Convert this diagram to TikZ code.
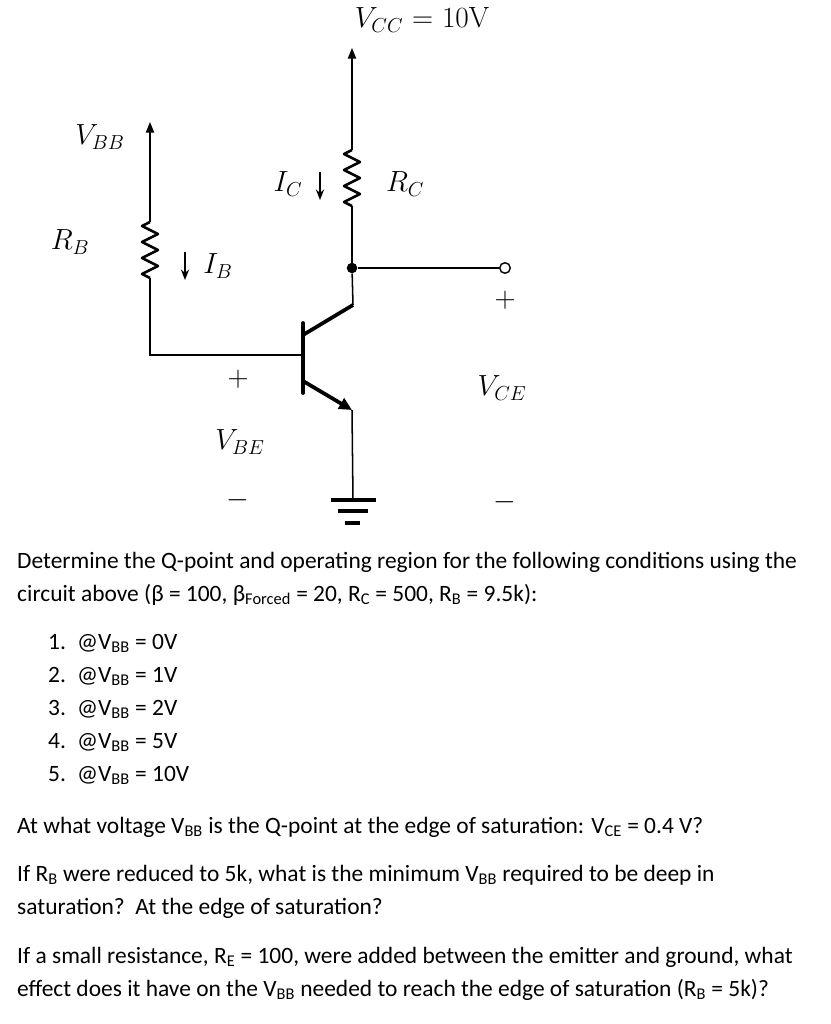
\documentclass[tikz,border=0pt]{standalone}
\usepackage{fontspec}
\setmainfont{Carlito}
\newfontfamily\lmr{Latin Modern Roman}
\usetikzlibrary{arrows.meta}
\tikzset{
  wire/.style={line width=1.3pt},
  thickw/.style={line width=3.2pt},
  lbl/.style={font=\lmr\fontsize{25}{28}\selectfont},
  txt/.style={anchor=base west, inner sep=0pt, font=\fontsize{20}{24}\selectfont},
  supply/.style={wire,-{Triangle[length=9pt,width=7pt]}},
  res/.style={line width=2.2pt,line join=round},
  cur/.style={line width=1.1pt,-{Stealth[length=9pt,width=7pt]}}
}
\newcommand{\zig}[3]{% x, ytop, ybottom
  \draw[res] (#1,#2) -- ++(-8,4) -- ++(16,8) -- ++(-16,8) -- ++(16,8) -- ++(-16,8) -- ++(16,8) -- ++(-16,8) -- (#1,#3);}
\begin{document}
\begin{tikzpicture}[x=0.03cm,y=-0.03cm]
\useasboundingbox (0,0) rectangle (831,1024);
% supply and collector branch
\coordinate (vcc) at (352,48);
\coordinate (rctop) at (352,150);
\coordinate (rcbot) at (352,206);
\node[circle,fill,inner sep=0pt,minimum size=9pt] (cnode) at (352,268) {};
\node[circle,draw,line width=1.2pt,inner sep=0pt,minimum size=9pt] (out) at (505,268) {};
\draw[supply] (rctop) -- (vcc);
\zig{352}{150}{206}
\draw[wire] (rcbot) -- (cnode);
\draw[wire] (cnode) -- (out);
% transistor
\coordinate (coll) at (353,305);
\coordinate (emit) at (352,410);
\draw[wire] (cnode) -- (coll);
\draw[thickw,line cap=round] (303,323) -- (303,393);
\draw[thickw] (303,335) -- (coll);
\draw[thickw,-{Triangle[length=11pt,width=10pt]}] (303,381) -- (emit);
\coordinate (gnd) at (353,500);
\draw[wire] (emit) -- (gnd);
\draw[line width=3pt] (331,500) -- (376,500);
\draw[line width=3pt] (338,511) -- (368,511);
\draw[line width=3pt] (345,523) -- (360,523);
% base branch
\coordinate (vbb) at (150,122);
\coordinate (rbtop) at (150,222);
\coordinate (rbbot) at (150,278);
\coordinate (bcorner) at (150,355);
\coordinate (base) at (303,355);
\draw[supply] (rbtop) -- (vbb);
\zig{150}{222}{278}
\draw[wire] (rbbot) -- (bcorner) -- (base);
% currents
\draw[cur] (185,252) -- (185,280);
\draw[cur] (320,172) -- (320,200);
% labels
\node[lbl] (lvcc) at (422,20) {$V_{CC}$ = 10V};
\node[lbl] (lvbb) at (100,137) {$V_{BB}$};
\node[lbl] (lrb) at (70,242) {$R_{B}$};
\node[lbl] (lib) at (218,266) {$I_{B}$};
\node[lbl] (lic) at (288,184) {$I_{C}$};
\node[lbl] (lrc) at (405,184) {$R_{C}$};
\node[lbl] (lpb) at (238,379) {$+$};
\node[lbl] (lvbe) at (240,442) {$V_{BE}$};
\node[lbl] (lmb) at (238,500) {$-$};
\node[lbl] (lpc) at (505,300) {$+$};
\node[lbl] (lvce) at (502,388) {$V_{CE}$};
\node[lbl] (lmc) at (505,502) {$-$};
% question text
\node[txt] (t1) at (17,568) {Determine the Q-point and operating region for the following conditions using the};
\node[txt] (t2) at (17,601) {circuit above (β = 100, β\textsubscript{Forced} = 20, R\textsubscript{C} = 500, R\textsubscript{B} = 9.5k):};
\foreach \i/\v [count=\k] in {649/0V,682/1V,715/2V,748/5V,781/10V}{
  \node[txt] (n\k) at (48,\i) {\k.};
  \node[txt] (q\k) at (77,\i) {@V\textsubscript{BB} = \v};
}
\node[txt] (t3) at (17,833) {At what voltage V\textsubscript{BB} is the Q-point at the edge of saturation: V\textsubscript{CE} = 0.4 V?};
\node[txt] (t4) at (17,881) {If R\textsubscript{B} were reduced to 5k, what is the minimum V\textsubscript{BB} required to be deep in};
\node[txt] (t5) at (17,914) {saturation?\ \ At the edge of saturation?};
\node[txt] (t6) at (17,963) {If a small resistance, R\textsubscript{E} = 100, were added between the emitter and ground, what};
\node[txt] (t7) at (17,996) {effect does it have on the V\textsubscript{BB} needed to reach the edge of saturation (R\textsubscript{B} = 5k)?};
\end{tikzpicture}
\end{document}
